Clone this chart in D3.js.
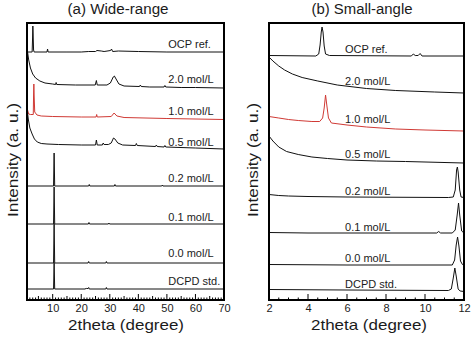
<!DOCTYPE html>
<html><head><meta charset="utf-8">
<script src="https://cdn.jsdelivr.net/npm/d3@7"></script>
<style>
html,body{margin:0;padding:0;background:#fff;}
svg{display:block;font-family:Arial,"Liberation Sans",sans-serif;}
</style></head>
<body><svg id="c" width="474" height="337"></svg>
<script>
// ---------- data ----------
const panelTitles = ["(a) Wide-range", "(b) Small-angle"];
const xTitle = "2theta (degree)";
const yTitle = "Intensity (a. u.)";
const seriesNames = ["OCP ref.", "2.0 mol/L", "1.0 mol/L", "0.5 mol/L", "0.2 mol/L", "0.1 mol/L", "0.0 mol/L", "DCPD std."];
const seriesColors = ["#111", "#111", "#d03a35", "#111", "#111", "#111", "#111", "#111"];
const wideTicks = [10, 20, 30, 40, 50, 60, 70];
const smallTicks = [2, 4, 6, 8, 10, 12];

// wide-range traces: [2theta, stacked intensity]
const wideOCP = [[1,248],[2.8,248],[2.95,262],[3.05,274],[3.15,266],[3.3,250],[3.5,248],[8,248],[8.2,251],[8.4,248],[15,248],[20,248],[22.6,248.5],[25,248.5],[25.5,249.5],[27,249],[28,248.5],[30.3,249.5],[30.6,251],[31,248.5],[33,249],[40,248.5],[50,248],[70,248]];
const wide20 = [[1.2,248],[1.6,240],[2.2,232],[3,226],[4,222],[5.5,219],[7.3,217],[10,216],[11,215.5],[11.2,217.5],[11.4,215.5],[18,215],[24.9,215],[25.3,219.5],[25.6,215],[29,215],[30.2,217],[31.2,223],[31.6,224],[32.2,221],[33.2,216],[35,214],[40.4,213.5],[40.7,215],[41,213.5],[44,213],[49,213],[49.3,214.5],[49.6,213],[55,212.5],[60,212.5],[70,212]];
const wide10 = [[1.2,190],[1.6,186],[2.2,185.5],[3.2,185.5],[3.3,205],[3.4,216],[3.5,205],[3.7,188],[4.5,185],[6,184],[10,183.5],[20,183],[25.2,183],[25.4,185.5],[25.6,183],[30.5,183.5],[31.5,187],[32.5,184],[35,182.5],[50,181.5],[70,180.5]];
const wide05 = [[1.2,187],[1.5,180],[2,172],[2.8,166],[3.6,161],[4.6,158],[6,156.5],[8,156],[12,155.5],[20,155],[25,155],[25.3,160],[25.6,155],[27.4,155],[27.7,157],[28,155.5],[29.5,155.5],[30.5,157],[31.3,162],[31.8,161],[32.8,157],[34.5,155],[39,154.5],[39.3,156.5],[39.6,154.5],[46,153.5],[46.3,155],[46.6,153.5],[49,153],[49.3,154.5],[49.6,153],[60,152],[70,151]];
const wide02 = [[1,114],[10.3,114],[10.5,147],[10.7,114],[22.6,114],[22.8,115.5],[23,114],[31.6,114],[31.8,115.5],[32,114],[48.2,114],[48.4,115],[48.6,114],[70,114]];
const wide01 = [[1,76],[10.3,76],[10.5,113],[10.7,76],[22.5,76],[22.7,77.5],[22.9,76],[29.5,76],[29.7,77],[29.9,76],[70,76]];
const wide00 = [[1,37],[10.3,37],[10.5,76],[10.7,37],[22.4,37],[22.6,38.5],[22.8,37],[28.6,37],[28.8,38.5],[29,37],[70,37]];
const wideDCPD = [[1,11],[10.3,11],[10.5,37],[10.7,11],[21.5,11],[21.7,12],[21.9,11.5],[22.4,11.5],[22.6,12.5],[22.8,11],[28.6,11],[28.8,12.5],[29,11],[70,11]];

// small-angle traces
const smallOCP = [[2,244.5],[4.4,244],[4.55,246],[4.62,255],[4.68,268],[4.72,273],[4.77,268],[4.83,254],[4.9,246],[5.1,244.5],[9.3,244],[9.4,246],[9.5,244.5],[9.65,244.5],[9.75,246.5],[9.85,244],[12,244]];
const small20 = [[2,243],[2.2,239],[2.5,234],[2.8,230],[3.2,226],[3.7,222.5],[4.5,219],[5.5,215],[7,211.5],[8.5,209.5],[10.5,208],[12,207]];
const small10 = [[2,183.5],[2.5,182],[3,180.5],[3.5,179.5],[4.2,178.5],[4.6,178.5],[4.75,182],[4.83,192],[4.9,205],[4.97,194],[5.05,182],[5.2,177],[6,175],[7,173],[8.5,171],[10,170],[12,169]];
const small05 = [[2,164],[2.2,159],[2.5,153],[2.9,148.5],[3.5,145.5],[4.2,143],[5,141.5],[6,140],[7.5,139],[9,138.5],[12,137]];
const small02 = [[2,105.5],[2.5,104.5],[3,104],[4,103.5],[6,103],[11.2,102.5],[11.45,103],[11.55,110],[11.62,130],[11.66,133],[11.7,128],[11.78,110],[11.85,103],[12,102.5]];
const small01 = [[2,67.5],[4,67],[10.6,67],[10.7,68.5],[10.8,67],[11.4,67],[11.55,70],[11.65,85],[11.72,97],[11.78,85],[11.88,69],[12,67]];
const small00 = [[2,35.5],[6,35],[11.4,35],[11.52,40],[11.6,55],[11.67,63],[11.74,54],[11.82,39],[11.92,35.5],[12,35]];
const smallDCPD = [[2,10.5],[6,10],[11.2,9.5],[11.35,11],[11.45,22],[11.53,32],[11.6,24],[11.7,11],[11.8,9],[12,8.5]];

// label anchors [2theta, stacked intensity]
const wideLabelPos = [[50.5,252],[50.5,217],[50.5,185],[50.5,154],[50.5,118],[50.5,79],[50.5,43],[50.5,15]];
const smallLabelPos = [[5.9,247],[5.9,215],[5.9,177],[5.9,142],[5.9,105],[5.9,69],[5.9,38],[5.9,12]];

// ---------- drawing ----------
const svg = d3.select("#c");
const plotTop = 23, plotBottom = 300;
const y = d3.scaleLinear().domain([0, 277]).range([plotBottom, plotTop]);

const panels = [
  {x0: 27, x1: 224, domain: [1, 70], ticks: wideTicks, minorStep: 1, midStep: 5,
   traces: [wideOCP, wide20, wide10, wide05, wide02, wide01, wide00, wideDCPD],
   labels: wideLabelPos, title: panelTitles[0], titleX: 118, xtX: 126, ytX: 18},
  {x0: 269, x1: 464, domain: [2, 12], ticks: smallTicks, minorStep: 0.5, midStep: null,
   traces: [smallOCP, small20, small10, small05, small02, small01, small00, smallDCPD],
   labels: smallLabelPos, title: panelTitles[1], titleX: 362, xtX: 369, ytX: 258}
];

const txt = "#1b1b1b";
panels.forEach((p, pi) => {
  const x = d3.scaleLinear().domain(p.domain).range([p.x0, p.x1]);
  const g = svg.append("g");
  const clipId = "clip" + pi;
  svg.append("clipPath").attr("id", clipId).append("rect")
    .attr("x", p.x0).attr("y", plotTop).attr("width", p.x1 - p.x0).attr("height", plotBottom - plotTop);

  const line = d3.line().x(d => x(d[0])).y(d => y(d[1]));
  const tg = g.append("g").attr("clip-path", `url(#${clipId})`);
  p.traces.forEach((t, i) => {
    tg.append("path").attr("d", line(t)).attr("fill", "none")
      .attr("stroke", seriesColors[i]).attr("stroke-width", 1).attr("stroke-linejoin", "round");
  });

  // series labels
  p.labels.forEach((l, i) => {
    g.append("text").attr("x", x(l[0])).attr("y", y(l[1]))
      .attr("font-size", 11).attr("fill", txt).text(seriesNames[i]);
  });

  // minor ticks (inside, pointing up)
  const n = Math.round((p.domain[1] - p.domain[0]) / p.minorStep);
  const minor = d3.range(0, n + 1).map(k => +(p.domain[0] + k * p.minorStep).toFixed(3));
  minor.forEach(v => {
    if (v <= p.domain[0] || v >= p.domain[1]) return;
    let len = 2.5;
    if (p.ticks.includes(v)) len = 6;
    else if (p.midStep && Math.abs(v / p.midStep - Math.round(v / p.midStep)) < 1e-6) len = 4;
    g.append("line").attr("x1", x(v)).attr("x2", x(v)).attr("y1", plotBottom).attr("y2", plotBottom - len)
      .attr("stroke", "#000").attr("stroke-width", 1);
  });

  // tick labels via axis
  const axis = d3.axisBottom(x).tickValues(p.ticks).tickSize(0).tickPadding(3).tickFormat(d3.format("d"));
  const ag = g.append("g").attr("transform", `translate(0,${plotBottom + 1})`).call(axis);
  ag.select(".domain").remove();
  ag.selectAll("text").attr("font-size", 11).attr("fill", txt).attr("font-family", "Arial, 'Liberation Sans', sans-serif");

  // frame
  g.append("rect").attr("x", p.x0).attr("y", plotTop).attr("width", p.x1 - p.x0).attr("height", plotBottom - plotTop)
    .attr("fill", "none").attr("stroke", "#000").attr("stroke-width", 2);

  // titles
  g.append("text").attr("x", p.titleX).attr("y", 14).attr("text-anchor", "middle")
    .attr("font-size", 14).attr("fill", txt).attr("textLength", 101).attr("lengthAdjust", "spacingAndGlyphs").text(p.title);
  g.append("text").attr("x", p.xtX).attr("y", 330).attr("text-anchor", "middle")
    .attr("font-size", 15).attr("fill", txt).attr("textLength", 116).attr("lengthAdjust", "spacingAndGlyphs").text(xTitle);
  g.append("text").attr("transform", `translate(${p.ytX},160) rotate(-90)`).attr("text-anchor", "middle")
    .attr("font-size", 14).attr("fill", txt).attr("textLength", 114).attr("lengthAdjust", "spacingAndGlyphs").text(yTitle);
});
</script></body></html>
